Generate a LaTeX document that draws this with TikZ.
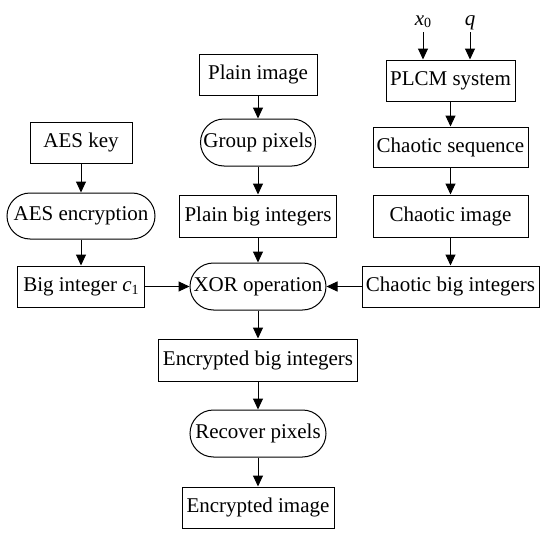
\documentclass[tikz,border=0pt]{standalone}
\usepackage{fontspec}
\setmainfont{Liberation Serif}
\usetikzlibrary{arrows.meta}
\newcommand{\subone}[1]{\raisebox{-0.3ex}{\fontsize{14}{14}\selectfont #1}}
\begin{document}
\begin{tikzpicture}[x=1pt,y=-1pt,
  every node/.style={font=\fontsize{21}{24}\selectfont, inner sep=0pt, align=center},
  box/.style={draw, line width=1pt, minimum height=41pt},
  rbox/.style={draw, line width=1pt, minimum height=47pt, rounded corners=23.5pt},
  arr/.style={line width=1pt, -{Triangle[length=11pt,width=10pt]}}]
\useasboundingbox (0,0) rectangle (550,538);
% middle column
\node[box, minimum width=118pt] (pimg) at (258,74.5) {Plain image};
\node[rbox, minimum width=115pt] (grp) at (258,142.5) {Group pixels};
\node[box, minimum width=157pt, minimum height=42pt] (pbi) at (258,216) {Plain big integers};
\node[rbox, minimum width=136pt] (xor) at (258,286.5) {XOR operation};
\node[box, minimum width=199pt, minimum height=42pt] (ebi) at (258,360) {Encrypted big integers};
\node[rbox, minimum width=136pt] (rec) at (258,433.5) {Recover pixels};
\node[box, minimum width=152pt] (eimg) at (258,507.5) {Encrypted image};
% left column
\node[box, minimum width=102pt] (aeskey) at (81,142.5) {AES key};
\node[rbox, minimum width=148pt, minimum height=46pt, rounded corners=23pt] (aesenc) at (81,216) {AES encryption};
\node[box, minimum width=127pt] (bic) at (81,286.5) {Big integer \textit{c}\subone{1}};
% right column
\node[box, minimum width=129pt] (plcm) at (450.5,80.5) {PLCM system};
\node[box, minimum width=155pt, minimum height=40pt] (cseq) at (450.5,147) {Chaotic sequence};
\node[box, minimum width=155pt, minimum height=42pt] (cimg) at (450.5,216) {Chaotic image};
\node[box, minimum width=177pt] (cbi) at (450.5,286.5) {Chaotic big integers};
% inputs
\node[anchor=base] (x0) at (423,25) {\textit{x}\subone{0}};
\node[anchor=base] (q) at (470,25) {\textit{q}};
\coordinate (x0s) at (423,32);
\coordinate (qs) at (470,32);
% arrows
\draw[arr] (pimg) -- (grp);
\draw[arr] (grp) -- (pbi);
\draw[arr] (pbi) -- (xor);
\draw[arr] (xor) -- (ebi);
\draw[arr] (ebi) -- (rec);
\draw[arr] (rec) -- (eimg);
\draw[arr] (aeskey) -- (aesenc);
\draw[arr] (aesenc) -- (bic);
\draw[arr] (bic) -- (xor);
\draw[arr] (cbi) -- (xor);
\draw[arr] (plcm) -- (cseq);
\draw[arr] (cseq) -- (cimg);
\draw[arr] (cimg) -- (cbi);
\draw[arr] (x0s) -- (plcm.north -| x0s);
\draw[arr] (qs) -- (plcm.north -| qs);
\end{tikzpicture}
\end{document}
